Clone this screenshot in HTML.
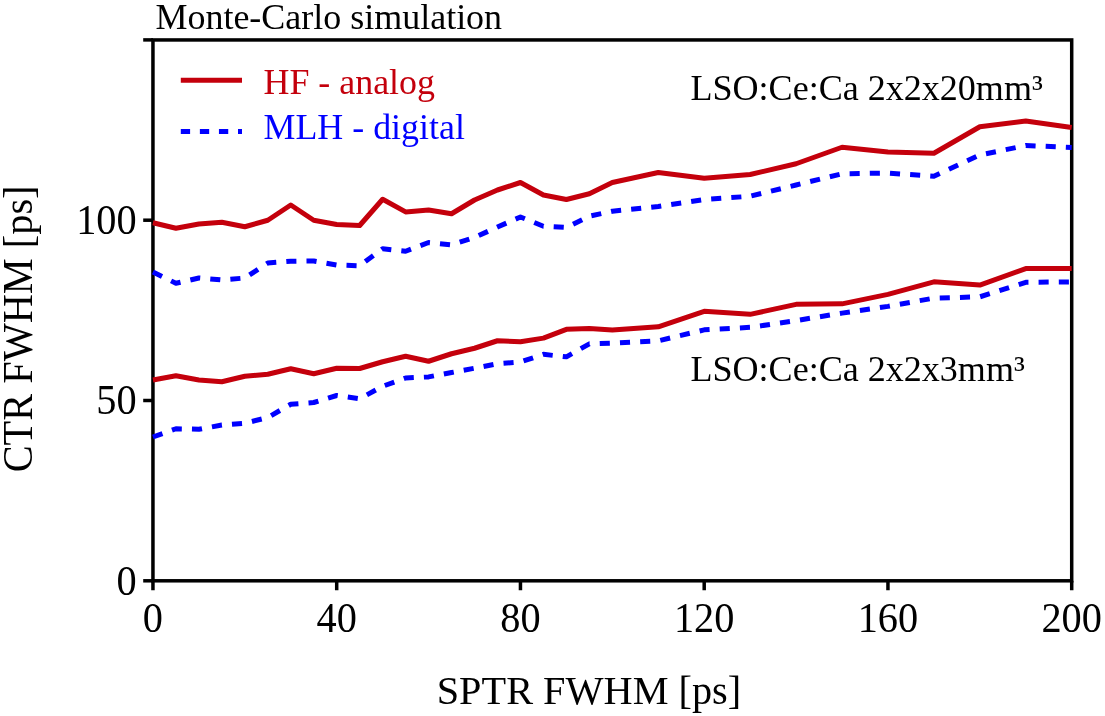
<!DOCTYPE html>
<html lang="en"><head><meta charset="utf-8"><title>Monte-Carlo simulation</title>
<style>
html,body{margin:0;padding:0;background:#fff;}
body{width:1105px;height:716px;overflow:hidden;font-family:"Liberation Serif","Times New Roman",serif;}
svg{display:block;}
</style></head><body>
<svg width="1105" height="716" viewBox="0 0 1105 716">
<rect width="1105" height="716" fill="#ffffff"/>
<g stroke="#000" stroke-width="3.5" fill="none" stroke-linecap="square">
<rect x="152.95" y="39.95" width="918.75" height="540.8499999999999"/>
<line x1="143.20" y1="580.80" x2="152.95" y2="580.80" stroke-linecap="butt"/>
<line x1="143.20" y1="400.50" x2="152.95" y2="400.50" stroke-linecap="butt"/>
<line x1="143.20" y1="220.20" x2="152.95" y2="220.20" stroke-linecap="butt"/>
<line x1="143.20" y1="39.90" x2="152.95" y2="39.90" stroke-linecap="butt"/>
<line x1="152.95" y1="580.80" x2="152.95" y2="590.25" stroke-linecap="butt"/>
<line x1="336.70" y1="580.80" x2="336.70" y2="590.25" stroke-linecap="butt"/>
<line x1="520.45" y1="580.80" x2="520.45" y2="590.25" stroke-linecap="butt"/>
<line x1="704.20" y1="580.80" x2="704.20" y2="590.25" stroke-linecap="butt"/>
<line x1="887.95" y1="580.80" x2="887.95" y2="590.25" stroke-linecap="butt"/>
<line x1="1071.70" y1="580.80" x2="1071.70" y2="590.25" stroke-linecap="butt"/>
</g>
<g fill="none" stroke-width="5.0" stroke-linejoin="round" stroke-linecap="butt">
<polyline stroke="#c4000c" points="152.95,222.75 175.92,228.25 198.89,224.00 221.86,222.25 244.82,226.75 267.79,220.25 290.76,205.00 313.73,220.25 336.70,224.50 359.67,225.50 382.64,199.25 405.61,211.90 428.57,210.00 451.54,213.75 474.51,200.00 497.48,190.00 520.45,182.50 543.42,195.00 566.39,199.50 589.36,193.75 612.33,182.50 658.26,172.50 704.20,178.25 750.14,174.50 796.08,163.75 842.01,147.25 887.95,152.00 933.89,153.25 979.83,126.75 1025.76,121.10 1071.70,127.50"/>
<polyline stroke="#c4000c" points="152.95,380.00 175.92,375.75 198.89,380.00 221.86,381.75 244.82,376.25 267.79,374.25 290.76,368.75 313.73,373.75 336.70,368.25 359.67,368.50 382.64,361.75 405.61,356.25 428.57,361.25 451.54,353.75 474.51,348.25 497.48,340.75 520.45,341.75 543.42,338.10 566.39,329.35 589.36,328.60 612.33,330.10 658.26,326.85 704.20,311.35 750.14,314.35 796.08,304.35 842.01,303.85 887.95,294.35 933.89,281.85 979.83,285.10 1025.76,268.60 1071.70,268.60"/>
<polyline stroke="#0000ff" stroke-dasharray="10.1 10.08" points="152.95,272.00 175.92,283.25 198.89,278.00 221.86,280.00 244.82,278.00 267.79,263.00 290.76,261.25 313.73,261.00 336.70,265.00 359.67,265.75 382.64,248.75 405.61,251.25 428.57,242.50 451.54,244.80 474.51,237.50 497.48,227.00 520.45,217.00 543.42,226.25 566.39,227.50 589.36,216.25 612.33,211.25 658.26,206.50 704.20,199.50 750.14,196.25 796.08,185.00 842.01,173.75 887.95,173.10 933.89,176.20 979.83,155.00 1025.76,145.50 1071.70,147.50"/>
<polyline stroke="#0000ff" stroke-dasharray="10.1 10.12" points="152.95,437.00 175.92,428.75 198.89,429.25 221.86,425.00 244.82,423.25 267.79,417.50 290.76,404.25 313.73,402.50 336.70,395.50 359.67,398.75 382.64,386.25 405.61,378.00 428.57,376.90 451.54,372.50 474.51,368.25 497.48,363.75 520.45,362.00 543.42,354.35 566.39,356.85 589.36,343.85 612.33,343.10 658.26,340.85 704.20,329.85 750.14,327.35 796.08,320.60 842.01,313.10 887.95,306.35 933.89,298.10 979.83,296.85 1025.76,282.35 1071.70,281.85"/>
</g>
<line x1="180.8" y1="80.25" x2="242" y2="80.25" stroke="#c4000c" stroke-width="5.0"/>
<line x1="180.8" y1="131.5" x2="242" y2="131.5" stroke="#0000ff" stroke-width="5.0" stroke-dasharray="9.3 9.77"/>
<g font-family="'Liberation Serif', 'Times New Roman', serif" fill="#000">
<text x="155.45" y="28.55" font-size="35.98">Monte-Carlo simulation</text>
<text x="263.5" y="94.1" font-size="35.9" fill="#c4000c">HF - analog</text>
<text x="263.5" y="138.9" font-size="35.9" fill="#0000ff">MLH - digital</text>
<text x="690.5" y="99.9" font-size="36.06">LSO:Ce:Ca 2x2x20mm³</text>
<text x="690.5" y="381" font-size="36.06">LSO:Ce:Ca 2x2x3mm³</text>
<text transform="translate(436.7,703.6) scale(1,1.01)" font-size="40.3">SPTR FWHM [ps]</text>
<text transform="translate(31.9,472.3) rotate(-90) scale(1,1.025)" font-size="40.35">CTR FWHM [ps]</text>
<text transform="translate(136.7,594.9) scale(1,1.025)" font-size="40.35" text-anchor="end">0</text>
<text transform="translate(136.7,414.3) scale(1,1.025)" font-size="40.35" text-anchor="end">50</text>
<text transform="translate(136.7,233.6) scale(1,1.025)" font-size="40.35" text-anchor="end">100</text>
<text transform="translate(152.95,632.4) scale(1,1.025)" font-size="40.35" text-anchor="middle">0</text>
<text transform="translate(336.70,632.4) scale(1,1.025)" font-size="40.35" text-anchor="middle">40</text>
<text transform="translate(520.45,632.4) scale(1,1.025)" font-size="40.35" text-anchor="middle">80</text>
<text transform="translate(704.20,632.4) scale(1,1.025)" font-size="40.35" text-anchor="middle">120</text>
<text transform="translate(887.95,632.4) scale(1,1.025)" font-size="40.35" text-anchor="middle">160</text>
<text transform="translate(1071.70,632.4) scale(1,1.025)" font-size="40.35" text-anchor="middle">200</text>
</g>
</svg>
</body></html>
